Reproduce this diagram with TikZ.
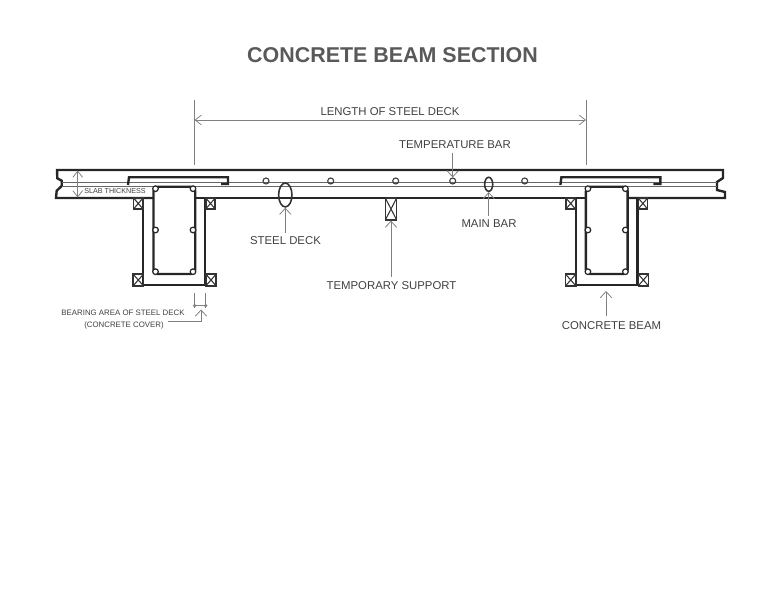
\documentclass[tikz,border=0pt]{standalone}
\usepackage{fontspec}
\setmainfont{Liberation Sans}
\usetikzlibrary{arrows.meta,shapes.geometric}
\definecolor{inkgray}{gray}{0.25}
\definecolor{titlegray}{gray}{0.35}
\definecolor{dimgray}{gray}{0.5}
\tikzset{
  heavy/.style={line width=1.35pt,black!85},
  deckline/.style={line width=0.55pt,black!60},
  dimline/.style={line width=0.45pt,dimgray},
  pointer/.style={dimline,-{Straight Barb[length=3.5pt,width=6.5pt]}},
  dimboth/.style={dimline,{Straight Barb[length=3.5pt,width=5.5pt]}-{Straight Barb[length=3.5pt,width=5.5pt]}},
  label/.style={text=inkgray,inner sep=0pt,font=\fontsize{6.47}{7.5}\selectfont},
  smalllabel/.style={text=inkgray,inner sep=0pt,font=\fontsize{4.47}{5.5}\selectfont},
  rebar/.style={circle,draw=black!85,fill=white,line width=0.7pt,inner sep=0pt,minimum size=3.2pt},
  tempbar/.style={draw,circle,line width=0.65pt,black!75,inner sep=0pt,minimum size=3.4pt},
  hoop/.style={draw,ellipse,line width=0.9pt,black!80,inner sep=0pt},
  propbox/.style={draw,line width=0.85pt,black!80,inner sep=0pt,minimum width=5.2pt,minimum height=6pt,
    path picture={\draw[line width=0.6pt] (path picture bounding box.north west) -- (path picture bounding box.south east)
      (path picture bounding box.north east) -- (path picture bounding box.south west);}},
}
\begin{document}
\begin{tikzpicture}[x=0.02cm,y=-0.02cm]
  \useasboundingbox (0,0) rectangle (768,594);
  \node[text=titlegray,inner sep=0pt,font=\bfseries\fontsize{12.2}{14}\selectfont] (title) at (392.5,55) {CONCRETE BEAM SECTION};

  % slab with broken ends
  \draw[heavy] (61.7,183) -- (61.7,180.7) -- (57.3,178.3) -- (57,170) -- (723,170) -- (723,178) -- (717,182)
    -- (717,190) -- (725,192) -- (725,198) -- (628,198);
  \draw[heavy] (586,198) -- (195,198);
  \draw[heavy] (153,198) -- (56,198) -- (56.7,190.7) -- (61.7,186) -- (61.7,183);
  \draw[deckline] (62,182.5) -- (717,182.5);
  \draw[deckline] (62,186) -- (717,186);

  % beams
  \foreach \x/\n in {0/L,432.4/R}
	{
	\begin{scope}[shift={(\x,0)}]
    	\draw[heavy] (143.3,198) -- (143.3,285) -- (205,285) -- (205,198);
    	\draw[heavy,rounded corners=2.5pt] (153.5,198) -- (153.5,186.8) -- (195.2,186.8) -- (195.2,274) -- (153.5,274) -- cycle;
    	\draw[heavy] (128,185) -- (129,177.3) -- (228,177.3) -- (228,184) -- (221,184);
    	\foreach \y/\m in {188.7/a,230/b,271.7/c}
    		{
    		\node[rebar] (bar\n\m1) at (155.5,\y) {};
    		\node[rebar] (bar\n\m2) at (193,\y) {};
    		}
    	\node[propbox] (prop\n1) at (138.3,203.5) {};
    	\node[propbox] (prop\n2) at (210.5,203.5) {};
    	\node[propbox,minimum width=5.8pt,minimum height=6.6pt] (prop\n3) at (138.3,280) {};
    	\node[propbox,minimum width=5.8pt,minimum height=6.6pt] (prop\n4) at (211,280) {};
	\end{scope}
	}

  % temperature bars and the two marks
  \foreach \x/\n in {266/a,330.7/b,395.7/c,452.7/d,524.7/e}
	{
	\node[tempbar] (temp\n) at (\x,181) {};
	}
  \node[hoop,minimum width=7.6pt,minimum height=13.6pt] (deckmark) at (285.3,195) {};
  \node[hoop,minimum width=4.6pt,minimum height=8pt] (mainmark) at (488.7,184.3) {};
  \node[propbox,minimum width=6.4pt,minimum height=12.4pt] (support) at (391,209) {};

  % length of deck
  \coordinate (lenL) at (194.5,120);
  \coordinate (lenR) at (586,120);
  \draw[dimline] (194.5,100) -- (194.5,165);
  \draw[dimline] (586,100) -- (586,165);
  \draw[dimboth] (lenL) -- (lenR);
  \node[label] (lenlabel) at (390,111.5) {LENGTH OF STEEL DECK};

  % slab thickness
  \coordinate (slabT) at (77.7,170.5);
  \coordinate (slabB) at (77.7,197.5);
  \draw[dimboth] (slabT) -- (slabB);
  \node[text=inkgray,inner sep=0pt,font=\fontsize{4.09}{5}\selectfont] (slablabel) at (115,191.5) {SLAB THICKNESS};

  % labels with pointers
  \node[label] (templabel) at (455,144.5) {TEMPERATURE BAR};
  \node[label] (decklabel) at (285.5,240.5) {STEEL DECK};
  \node[label] (mainlabel) at (489,224) {MAIN BAR};
  \node[label] (supportlabel) at (391.5,286) {TEMPORARY SUPPORT};
  \node[label] (beamlabel) at (611.5,326) {CONCRETE BEAM};
  \coordinate (beamtip) at (606,291);
  \coordinate (temptop) at (452.7,153);
  \coordinate (decktail) at (285.3,233);
  \coordinate (maintail) at (488.7,216);
  \coordinate (supporttail) at (391,277);
  \coordinate (beamtail) at (606,316);
  \draw[pointer] (temptop) -- (tempd);
  \draw[pointer] (decktail) -- (deckmark);
  \draw[pointer] (maintail) -- (mainmark);
  \draw[pointer] (supporttail) -- (support);
  \draw[pointer] (beamtail) -- (beamtip);

  % bearing area
  \node[smalllabel] (bearlabel) at (123,312.5) {BEARING AREA OF STEEL DECK};
  \node[smalllabel] (coverlabel) at (124,325.5) {(CONCRETE COVER)};
  \coordinate (bearL) at (194.7,305.7);
  \coordinate (bearR) at (205.7,305.7);
  \coordinate (bearmid) at (201,309.5);
  \coordinate (bearbend) at (201,321);
  \coordinate (beartail) at (167.7,321);
  \draw[dimline] (194.7,293) -- (194.7,308);
  \draw[dimline] (205.7,293) -- (205.7,308);
  \draw[dimline] (bearL) -- (bearR);
  \fill[dimgray] (bearL) circle (1.8) (bearR) circle (1.8);
  \draw[pointer] (beartail) -- (bearbend) -- (bearmid);
\end{tikzpicture}
\end{document}
